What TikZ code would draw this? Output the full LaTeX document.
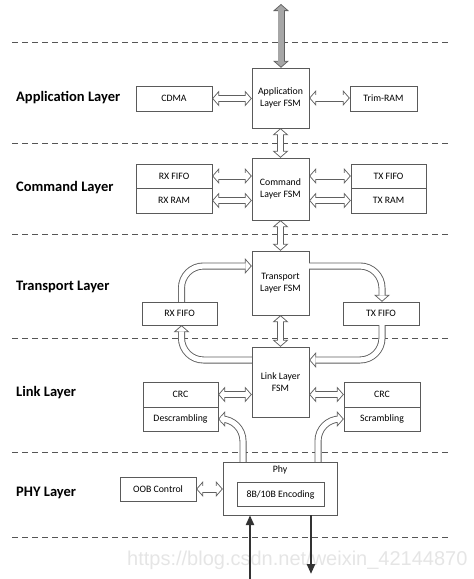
\documentclass[tikz,border=0pt]{standalone}
\usepackage{fontspec}
\setmainfont{Carlito}
\newfontfamily\markfont{Liberation Sans}
\usetikzlibrary{arrows.meta}
\definecolor{linegray}{HTML}{555555}
\definecolor{boxgray}{HTML}{5A5A5A}
\definecolor{arrowgray}{HTML}{606060}
\tikzset{
    bigtip/.tip={Triangle[length=7pt,width=16pt,line width=0pt]},
    smalltip/.tip={Triangle[length=4.9pt,width=11.2pt,line width=0pt]},
    % fat arrow drawn as outline, both ends
    hollow/.style={draw=arrowgray, line width=7pt, bigtip-bigtip,
        postaction={draw=#1, line width=5.2pt, shorten <=1.2pt, shorten >=1.2pt, smalltip-smalltip}},
    hollow/.default=white,
    % fat arrow, one end
    hollowto/.style={draw=arrowgray, line width=7pt, -bigtip, rounded corners=22pt,
        postaction={draw=white, line width=5.2pt, shorten >=1.2pt, -smalltip}},
}
\begin{document}
\begin{tikzpicture}[x=1pt,y=-1pt,>={Triangle[length=10pt,width=8pt]},
    box/.style={draw=boxgray, fill=white, inner sep=0pt, align=center,
        font=\fontsize{9.8}{12}\selectfont},
    layer/.style={anchor=west, inner sep=0pt, font=\fontsize{14.5}{16}\selectfont\bfseries},
    wire/.style={draw=black!80, line width=2.4pt, ->}]
    \useasboundingbox (0,0) rectangle (474,579);
    % watermark
    \node[anchor=west, inner sep=0pt, text=black!10, font=\markfont\fontsize{20}{20}\selectfont]
        (mark) at (127,560) {https://blog.csdn.net/weixin\_42144870};
    % draw the layer borders
    \foreach \y in {42,143,234,338,452,537}
        \draw[linegray, dash pattern=on 6pt off 4pt] (12,\y) -- (448,\y);
    % layer names
    \foreach \y/\name in {98/Application Layer, 188/Command Layer, 287/Transport Layer,
                          393/Link Layer, 493/PHY Layer}
        \node[layer] (name\y) at (16,\y) {\name};

    % state machines
    \node[box, minimum width=57pt, minimum height=60pt] (app)   at (280.5,98)  {Application\\Layer FSM};
    \node[box, minimum width=57pt, minimum height=62pt] (cmd)   at (280.5,189) {Command\\Layer FSM};
    \node[box, minimum width=57pt, minimum height=64pt] (trans) at (280.5,283) {Transport\\Layer FSM};
    \node[box, minimum width=57pt, minimum height=70pt] (link)  at (280.5,382) {Link Layer\\FSM};

    % application layer
    \node[box, minimum width=76pt, minimum height=25pt] (cdma) at (174,98.5)   {CDMA};
    \node[box, minimum width=67pt, minimum height=25pt] (trim) at (383.5,98.5) {Trim-RAM};
    % command layer
    \node[box, minimum width=76pt, minimum height=24pt] (rxf) at (174,176)   {RX FIFO};
    \node[box, minimum width=76pt, minimum height=25pt] (rxr) at (174,200.5) {RX RAM};
    \node[box, minimum width=75pt, minimum height=24pt] (txf) at (388.5,176)   {TX FIFO};
    \node[box, minimum width=75pt, minimum height=25pt] (txr) at (388.5,200.5) {TX RAM};
    % transport layer
    \node[box, minimum width=75pt, minimum height=23pt] (rxt) at (179.5,313.5) {RX FIFO};
    \node[box, minimum width=76pt, minimum height=23pt] (txt) at (381,313.5)   {TX FIFO};
    % link layer
    \node[box, minimum width=75pt, minimum height=25pt] (crcl)  at (180.5,394.5) {CRC};
    \node[box, minimum width=75pt, minimum height=24pt] (descr) at (180.5,419)   {Descrambling};
    \node[box, minimum width=76pt, minimum height=25pt] (crcr)  at (382,394.5)   {CRC};
    \node[box, minimum width=76pt, minimum height=24pt] (scr)   at (382,419)     {Scrambling};
    % phy layer
    \node[box, minimum width=114pt, minimum height=53pt] (phy) at (280,488.5) {};
    \node[box, draw=none, fill=none, anchor=north] (phyname) at ([yshift=-4pt]phy.north) {Phy};
    \node[box, minimum width=87pt, minimum height=24pt] (enc) at (280.5,494.5) {8B/10B Encoding};
    \node[box, minimum width=76pt, minimum height=24pt] (oob) at (158,489) {OOB Control};

    % host side
    \coordinate (host) at (281,4);
    \draw[hollow=black!35] (host) -- (host |- app.north);
    % between the state machines
    \draw[hollow] (app.south) -- (cmd.north);
    \draw[hollow] (cmd.south) -- (trans.north);
    \draw[hollow] (trans.south) -- (link.north);
    % side blocks
    \draw[hollow] (cdma.east) -- (cdma.east -| app.west);
    \draw[hollow] (app.east) -- (app.east -| trim.west);
    \draw[hollow] (rxf.east) -- (rxf.east -| cmd.west);
    \draw[hollow] (rxr.east) -- (rxr.east -| cmd.west);
    \draw[hollow] (txf.west -| cmd.east) -- (txf.west);
    \draw[hollow] (txr.west -| cmd.east) -- (txr.west);
    \draw[hollow] (crcl.east) -- (crcl.east -| link.west);
    \draw[hollow] (crcr.west -| link.east) -- (crcr.west);
    \draw[hollow] (oob.east) -- (oob.east -| phy.west);
    % curved paths
    \draw[hollowto] ([xshift=2pt]rxt.north) |- ([yshift=17pt]trans.west);
    \draw[hollowto] ([yshift=17pt]trans.east) -| ([xshift=1pt]txt.north);
    \draw[hollowto] ([yshift=22pt]link.west) -| ([xshift=2pt]rxt.south);
    \draw[hollowto] ([xshift=1pt]txt.south) |- ([yshift=22pt]link.east);
    \draw[hollowto] ([xshift=-37pt]phy.north) |- (descr.east);
    \draw[hollowto] ([xshift=38pt]phy.north) |- (scr.west);

    % serial lines
    \coordinate (rxin) at (250,579);
    \coordinate (txout) at (311,574);
    \draw[wire] (rxin) -- (rxin |- phy.south);
    \draw[wire] (txout |- phy.south) -- (txout);
\end{tikzpicture}
\end{document}
